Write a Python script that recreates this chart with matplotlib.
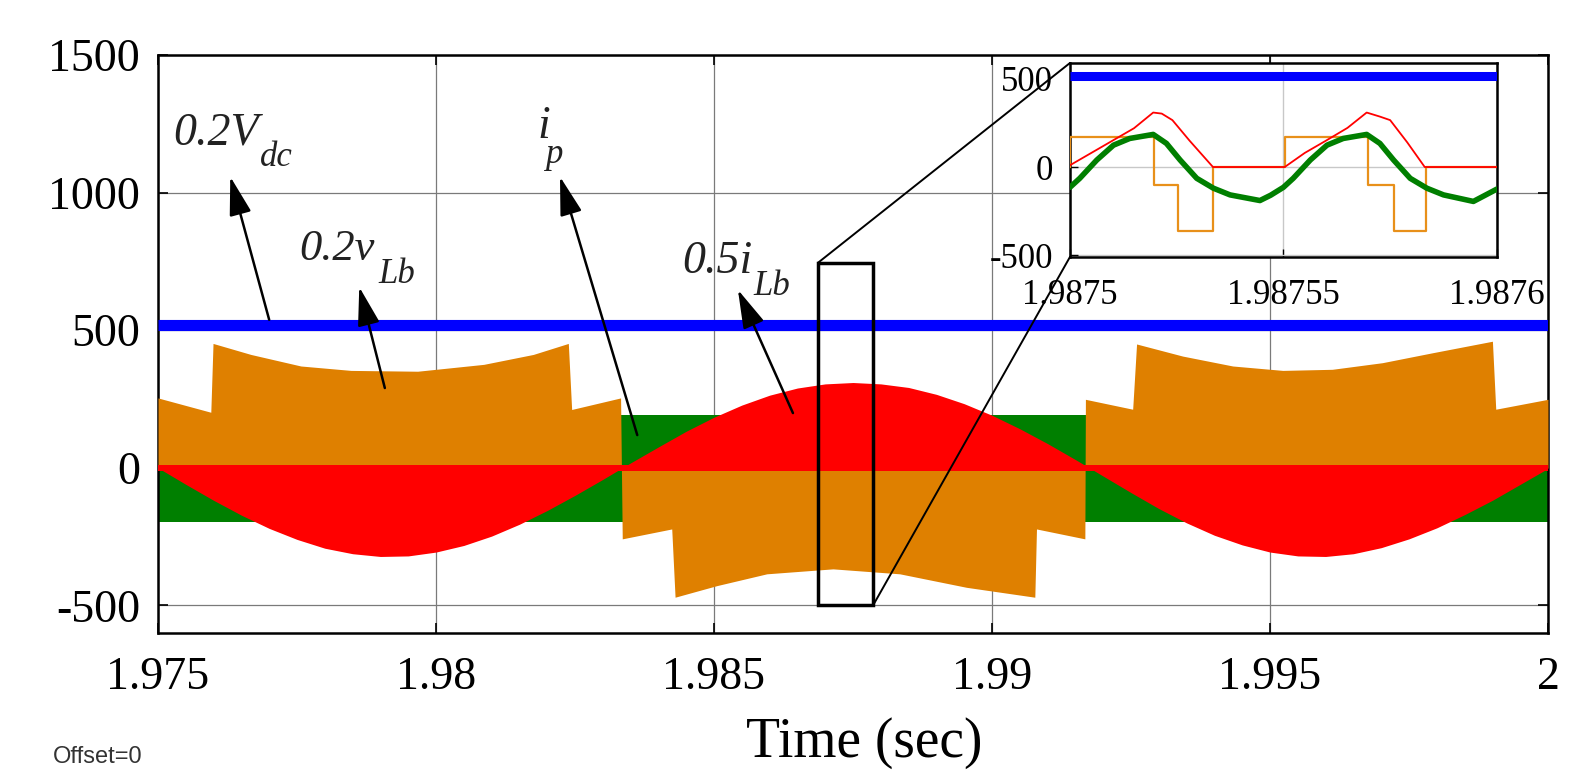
import numpy as np
import matplotlib
matplotlib.use("Agg")
import matplotlib.pyplot as plt
from matplotlib.patches import Rectangle, ConnectionPatch

plt.rcParams['font.family'] = ['Liberation Serif', 'DejaVu Serif']
plt.rcParams['axes.unicode_minus'] = False

# ---- main window ----
vdc_level = 520.0          # 0.2 Vdc

# 0.5 iLb switching band
ilb_lo = -196.0
ilb_hi = 192.0

# 0.2 vLb envelope (signed, steps where the level changes)
vlb_t = [1.9750, 1.97595, 1.97599, 1.97667, 1.97757, 1.97847, 1.97967, 1.98086, 1.98175, 1.98238,
         1.98244, 1.98332, 1.98335, 1.98424, 1.98430, 1.98505, 1.98595, 1.98714, 1.98834, 1.98954,
         1.99077, 1.99080, 1.99167, 1.99168, 1.99253, 1.99260, 1.99343, 1.99433, 1.99523, 1.99612,
         1.99702, 1.99792, 1.99900, 1.99906, 2.0000]
vlb_v = [254, 202, 452, 412, 370, 354, 351, 376, 412, 452,
         212, 254, -258, -222, -470, -428, -385, -367, -385, -434,
         -470, -222, -258, 249, 213, 450, 406, 370, 354, 358,
         382, 418, 460, 213, 249]

# i_p envelope, sampled every 0.5 ms
ip_t = np.linspace(1.975, 2.0, 51)
ip_v = [0, -60, -118, -172, -220, -260, -292, -312, -322, -320,
        -306, -282, -248, -205, -155, -100, -42, 18, 76, 133,
        184, 228, 264, 290, 305, 310, 305, 292, 267, 233,
        191, 142, 88, 30, -30, -90, -148, -200, -245, -280,
        -306, -320, -322, -312, -290, -258, -218, -170, -118, -60, -2]
ip_ripple = 10.0

# ---- zoomed window 1.9875 .. 1.9876 s ----
zoom_t0 = 1.9875
zoom_vdc = 515.0
zoom_vlb_us = [0, 0, 19.7, 25.4, 33.6, 50.3, 69.7, 75.9, 83.4, 100]
zoom_vlb_v = [0, 168, -102, -360, 0, 168, -102, -360, 0, 0]
zoom_ip_us = [0, 5, 10, 15, 19.5, 21.5, 24, 28, 33.5, 50.3, 55, 60, 65, 69.5, 72.6, 75, 79, 83.1, 100]
zoom_ip_v = [10, 80, 150, 220, 309, 303, 266, 150, 0, 0, 80, 150, 222, 309, 286, 266, 140, 0, 0]
zoom_ilb_us = [0, 2.3, 6.3, 10.2, 14, 19.5, 22.6, 25.8, 29.7, 33.6, 37.5, 44.5, 47, 50,
               52.3, 56.3, 60.2, 64, 69.5, 72.6, 75.8, 79.7, 83.6, 87.5, 94.5, 100]
zoom_ilb_v = [-115, -64, 40, 124, 162, 185, 134, 40, -64, -120, -158, -190, -160, -115,
              -64, 40, 124, 162, 185, 134, 40, -64, -120, -158, -195, -125]

c_blue = '#0000FF'
c_orange = '#DF8000'
c_green = '#007F00'
c_red = '#FF0000'

fig = plt.figure(figsize=(15.83, 7.71), dpi=100)
ax = fig.add_axes([0.0998, 0.179, 0.8781, 0.7497])

ax.fill_between([1.975, 2.0], ilb_lo, ilb_hi, color=c_green, lw=0, zorder=2)
ax.fill_between(vlb_t, 0, vlb_v, color=c_orange, lw=0, zorder=3)
ax.fill_between(ip_t, 0, ip_v, color=c_red, lw=0, zorder=4)
ax.fill_between([1.975, 2.0], -ip_ripple, ip_ripple, color=c_red, lw=0, zorder=4)
ax.plot([1.975, 2.0], [vdc_level, vdc_level], color=c_blue, lw=8, solid_capstyle='butt', zorder=5)

ax.set_xlim(1.975, 2.0)
ax.set_ylim(-600, 1500)
ax.set_xticks([1.975, 1.98, 1.985, 1.99, 1.995, 2.0])
ax.set_xticklabels(['1.975', '1.98', '1.985', '1.99', '1.995', '2'])
ax.set_yticks([-500, 0, 500, 1000, 1500])
ax.tick_params(direction='in', length=7, width=1.2, top=True, right=True, labelsize=33)
ax.tick_params(axis='x', pad=17)
ax.tick_params(axis='y', pad=13)
ax.grid(True, color='#7a7a7a', lw=0.9)
ax.set_axisbelow(True)
for s in ax.spines.values():
    s.set_linewidth(1.8)

# zoom marker box
box_l, box_r, box_b, box_t = 1.98687, 1.98786, -500, 745
ax.add_patch(Rectangle((box_l, box_b), box_r - box_l, box_t - box_b,
                       fill=False, ec='k', lw=2.5, zorder=6))

# arrows and labels
arr = dict(arrowstyle='-|>,head_length=1.4,head_width=0.4', color='k', lw=1.8,
           shrinkA=0, shrinkB=0, mutation_scale=17)
ax.annotate('', xy=(1.97630, 1058), xytext=(1.97700, 538), arrowprops=arr, zorder=7)
ax.annotate('', xy=(1.97862, 657), xytext=(1.97908, 290), arrowprops=arr, zorder=7)
ax.annotate('', xy=(1.98223, 1058), xytext=(1.98362, 119), arrowprops=arr, zorder=7)
ax.annotate('', xy=(1.98543, 647), xytext=(1.98642, 199), arrowprops=arr, zorder=7)

lab = dict(style='italic', va='baseline', ha='left', color='#222222', zorder=7)
ax.text(1.97527, 1175, '0.2V', fontsize=33, **lab)
ax.text(1.97683, 1095, 'dc', fontsize=25, **lab)
ax.text(1.97755, 756, '0.2v', fontsize=32, **lab)
ax.text(1.97896, 673, 'Lb', fontsize=25, **lab)
ax.text(1.98182, 1200, 'i', fontsize=33, **lab)
ax.text(1.98196, 1109, 'p', fontsize=25, **lab)
ax.text(1.98442, 709, '0.5i', fontsize=33, **lab)
ax.text(1.98570, 629, 'Lb', fontsize=25, **lab)

fig.text(864 / 1583, 1 - 757 / 771, 'Time (sec)', fontsize=40, ha='center', va='baseline')
fig.text(53 / 1583, 1 - 763 / 771, 'Offset=0', fontsize=17, family='Liberation Sans',
         ha='left', va='baseline', color='#333333')

# ---- inset ----
axi = fig.add_axes([0.6759, 0.6667, 0.2697, 0.2516], zorder=3)
axi.set_facecolor('white')
to_t = lambda us: zoom_t0 + np.array(us) * 1e-6
axi.plot(to_t([0, 100]), [zoom_vdc, zoom_vdc], color=c_blue, lw=6.5, solid_capstyle='butt', zorder=3)
axi.plot(to_t(zoom_vlb_us), zoom_vlb_v, color='#E8901A', lw=1.6, drawstyle='steps-post', zorder=3)
axi.plot(to_t(zoom_ip_us), zoom_ip_v, color=c_red, lw=1.3, zorder=4)
axi.plot(to_t(zoom_ilb_us), zoom_ilb_v, color=c_green, lw=4, solid_capstyle='round', zorder=5)
axi.set_xlim(1.9875, 1.9876)
axi.set_ylim(-510, 590)
axi.set_xticks([1.9875, 1.98755, 1.9876])
axi.set_xticklabels(['1.9875', '1.98755', '1.9876'])
axi.set_yticks([-500, 0, 500])
axi.tick_params(direction='in', length=6, width=1, labelsize=25)
axi.tick_params(axis='x', pad=16)
axi.tick_params(axis='y', pad=12)
axi.grid(True, color='#c8c8c8', lw=1)
axi.set_axisbelow(True)
for s in axi.spines.values():
    s.set_linewidth(1.8)

for xyA, xyB in [((box_l, box_t), (0, 1)), ((box_r, box_b), (0, 0))]:
    con = ConnectionPatch(xyA=xyA, coordsA=ax.transData, xyB=xyB, coordsB=axi.transAxes,
                          color='k', lw=1.4)
    fig.add_artist(con)

fig.savefig('out.png', dpi=100)
